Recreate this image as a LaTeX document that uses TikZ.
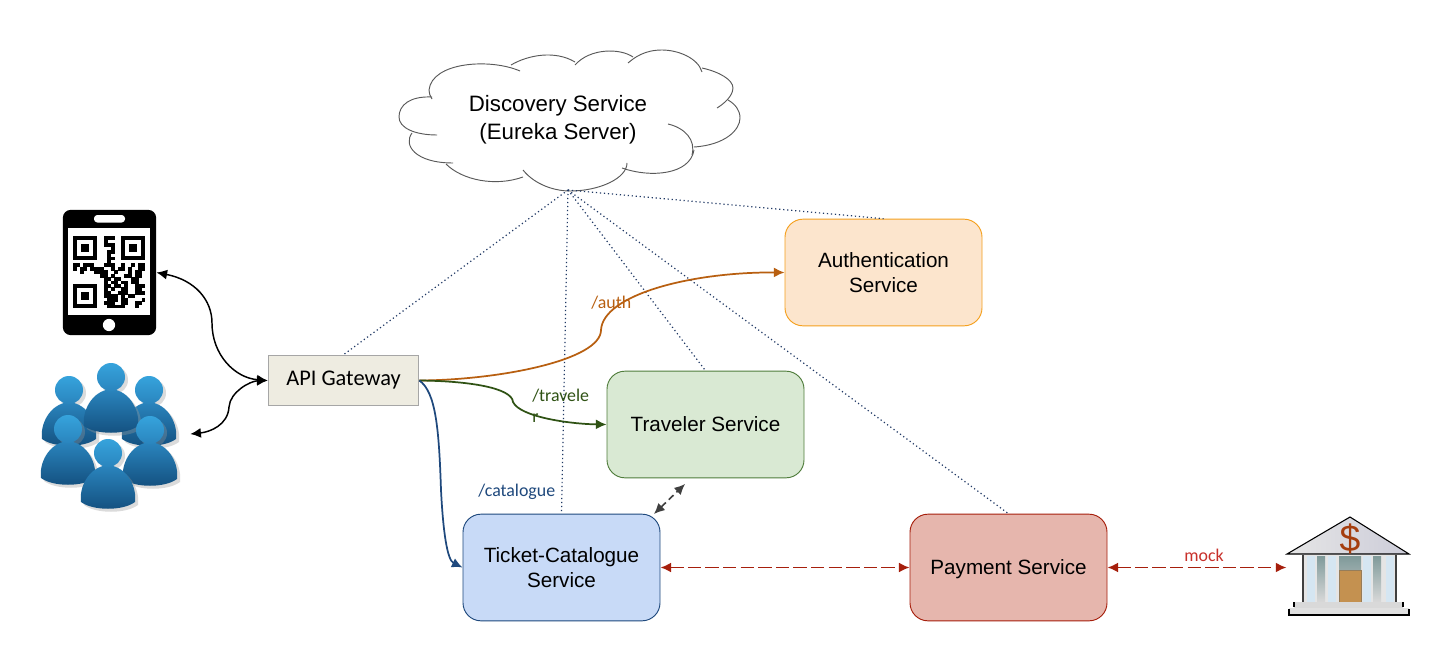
\documentclass[tikz,border=0pt]{standalone}
\usepackage{fontspec}
\usetikzlibrary{arrows.meta}
\setmainfont{Liberation Sans}
\newfontfamily\routefont{Carlito}
\definecolor{authline}{HTML}{B85F10}
\definecolor{travelline}{HTML}{2F5214}
\definecolor{catline}{HTML}{1F497D}
\definecolor{payline}{HTML}{A61F0C}
\definecolor{hubline}{HTML}{1F3864}
\definecolor{personlight}{HTML}{36A3DC}
\definecolor{personmid}{HTML}{2A85BE}
\definecolor{persondark}{HTML}{134F7E}
\definecolor{pillarpale}{HTML}{D5E6F2}
\definecolor{pillardark}{HTML}{7F9A9A}
\newcommand{\personbody}{(0,12) .. controls (-20,14) and (-29,35) .. (-27,49)
  .. controls (-15,58) and (15,58) .. (27,49) .. controls (29,35) and (20,14) .. (0,12) -- cycle}
\tikzset{
  >={Latex[length=8pt,width=7.5pt]},
  service/.style = {draw, rounded corners=13.5pt, minimum width=147.75pt, minimum height=80pt,
    align=center, font=\fontsize{15.5}{18.75}\selectfont, line width=.7pt},
  oneline/.style = {text height=13pt, text depth=1.8pt},
  route/.style = {font=\routefont\fontsize{13.4}{16}\selectfont, inner sep=0pt},
  hubdots/.style = {hubline, line width=.9pt, dash pattern=on .9pt off 2.1pt},
  paylink/.style = {<->, payline, line width=1.3pt, dash pattern=on 10pt off 3.2pt},
  lobe/.style = {draw=black!65, line width=.7pt},
  person/.pic = {
    \fill[black!40, opacity=.35, shift={(3,3)}] (0,0) circle [radius=10.5pt] \personbody;
    \shade[top color=personmid, bottom color=persondark] \personbody;
    \shade[top color=personlight, bottom color=personmid] (0,0) circle [radius=10.5pt];
  },
}
\begin{document}
\begin{tikzpicture}[x=.75pt, y=-.75pt]
  \useasboundingbox (0,0) rectangle (1437,649);
  \fill[white] (0,0) rectangle (1437,649);
  % cloud
  \draw[lobe] (432,97) .. controls (410,96) and (399,105) .. (399,117) .. controls (399,128) and (415,135) .. (437,135);
  \draw[lobe] (412,133) .. controls (403,145) and (415,163) .. (453,163);
  \draw[lobe] (446,164) .. controls (462,180) and (495,187) .. (523,177);
  \draw[lobe] (523,170) .. controls (535,185) and (555,191) .. (570,191) .. controls (600,191) and (627,178) .. (627,163);
  \draw[lobe] (622,168) .. controls (650,178) and (690,175) .. (694,150);
  \draw[lobe] (668,124) .. controls (685,128) and (696,140) .. (692,155);
  \draw[lobe] (694,147) .. controls (725,145) and (740,130) .. (740,118) .. controls (740,110) and (735,104) .. (728,100);
  \draw[lobe] (717,108) .. controls (730,100) and (733,92) .. (733,88) .. controls (733,80) and (720,72) .. (702,68);
  \draw[lobe] (702,72) .. controls (698,58) and (678,50) .. (662,50) .. controls (645,50) and (635,57) .. (628,63);
  \draw[lobe] (633,57) .. controls (620,48) and (590,48) .. (575,65);
  \draw[lobe] (575,62) .. controls (555,50) and (528,55) .. (511,65);
  \draw[lobe] (520,71) .. controls (490,58) and (432,62) .. (429,90) .. controls (429,93) and (430,96) .. (432,99);
  \node[align=center, font=\fontsize{16.7}{21}\selectfont] (discovery) at (558,119.5) {Discovery Service\\(Eureka Server)};
  \coordinate (hub) at (568,190);
  % services
  \node[service, minimum width=113pt, minimum height=38pt, rounded corners=0pt, draw=black!35,
    fill={rgb,255:red,238;green,236;blue,225}, font=\routefont\fontsize{16.8}{18}\selectfont] (api) at (343.5,380.5) {API Gateway};
  \node[service, draw={rgb,255:red,245;green,160;blue,30}, fill={rgb,255:red,252;green,229;blue,205}] (auth) at (883.5,272.5) {Authentication\\Service};
  \node[service, oneline, draw={rgb,255:red,80;green,125;blue,60}, fill={rgb,255:red,217;green,233;blue,211}] (traveler) at (705.5,424.5) {Traveler Service};
  \node[service, draw=catline, fill={rgb,255:red,200;green,218;blue,247}] (catalogue) at (561.5,567.5) {Ticket-Catalogue\\Service};
  \node[service, oneline, draw=payline, fill={rgb,255:red,230;green,182;blue,173}] (payment) at (1008.5,567.5) {Payment Service};
  % phone
  \node[fill=black, rounded corners=6pt, minimum width=70pt, minimum height=94pt, inner sep=0pt] (phone) at (109.5,272.5) {};
  \fill[white] (68,228) rectangle (150,315);
  \fill[white, rounded corners=2.5pt] (94,215) rectangle (125,222.5);
  \fill[white] (109,325) circle [radius=4.6pt];
  \begin{scope}[shift={(73,236)}, x=2.57pt, y=-2.57pt]
    \foreach \fx/\fy in {0/0, 14/0, 0/14} {
      \fill[black] (\fx,\fy) rectangle +(7,7);
      \fill[white] (\fx+1.3,\fy+1.3) rectangle +(4.4,4.4);
      \fill[black] (\fx+2.4,\fy+2.4) rectangle +(2.2,2.2);
    }
    \foreach \r/\cols in {0/{9,10,11}, 1/{9}, 2/{9,10,11}, 3/{11}, 4/{10,11}, 5/{10}, 6/{10,11}, 7/{10},
      8/{0,1,3,4,5,9,10,11,14,17,19,20}, 9/{0,2,3,5,6,7,8,11,13,14,16,19,20}, 10/{2,6,7,8,9,12,16,18,19},
      11/{8,9,11,15,16,18,19}, 12/{9,10,12,13,17,18}, 13/{9,11,12,14,15,17,18}, 14/{9,10,12,13,15,18,19,20},
      15/{9,11,14,15,18,19}, 16/{9,10,13,14,15,18,19,20}, 17/{9,10,11,12,14,16,17}, 18/{10,11,12,14,15,20},
      19/{9,10,11,14,15,18,19}, 20/{10,11,12,13,14,18}}
      \foreach \c in \cols
        \fill[black] (\c,\r) rectangle +(1.12,1.12);
  \end{scope}
  % users
  \node[minimum width=120pt, minimum height=113pt, inner sep=0pt] (users) at (110,434) {};
  \pic at (69,390) {person};
  \pic at (149,390) {person};
  \pic at (111,377) {person};
  \pic at (68,429) {person};
  \pic at (150,430) {person};
  \pic at (108,453) {person};
  % bank
  \node[minimum width=92pt, minimum height=74pt, inner sep=0pt] (bank) at (1348,567.5) {};
  \fill[black!10] (1303,555) rectangle (1396,602);
  \draw[black!75, line width=.8pt] (1303,555) -- (1303,602) (1396,555) -- (1396,602);
  \foreach \px in {1307,1328,1363,1386}
    \fill[pillarpale] (\px,556) rectangle +(8,46);
  \foreach \px in {1317,1373}
    \shade[top color=pillardark, bottom color=black!15] (\px,556) rectangle +(8,46);
  \shade[top color=pillardark, bottom color=black!20] (1339,556) rectangle (1361,602);
  \fill[fill={rgb,255:red,196;green,145;blue,80}, draw={rgb,255:red,150;green,125;blue,90}] (1339,570) rectangle (1361,602);
  \shade[left color=black!10, right color=blue!25!black!20, draw=black, line width=.8pt]
    (1287,554) -- (1350,517) -- (1409,554) -- cycle;
  \fill[black!15] (1294,602) rectangle (1403,608);
  \fill[black!12] (1289,608) rectangle (1409,615);
  \draw[black, line width=.8pt] (1294,607) -- (1294,602) (1403,602) -- (1403,607)
    (1289,609) -- (1289,615) -- (1409,615) -- (1409,609);
  \node[text={rgb,255:red,165;green,62;blue,15}, font=\fontsize{28}{28}\selectfont, inner sep=0pt] (dollar) at (1350,539) {\$};
  % discovery links
  \draw[hubdots] (hub) -- (api.north);
  \draw[hubdots] (hub) -- (catalogue.north);
  \draw[hubdots] (hub) -- (traveler.north);
  \draw[hubdots] (hub) -- (payment.north);
  \draw[hubdots] (hub) -- (auth.north);
  % client links
  \draw[<->, line width=1.1pt] (phone.east) .. controls (195,280) and (212,300) .. (212,323)
    .. controls (212,355) and (235,378) .. (api.west);
  \draw[<->, line width=1.1pt] (users.east) .. controls (210,432) and (228,425) .. (229,407)
    .. controls (230,392) and (250,381) .. (api.west);
  % routes
  \draw[->, authline, line width=1.3pt] (api.east) .. controls (500,380) and (601,360) .. (601,330)
    .. controls (603,295) and (690,272) .. (auth.west);
  \draw[->, travelline, line width=1.3pt] (api.east) .. controls (470,381) and (512,388) .. (513,402)
    .. controls (520,417) and (570,424) .. (traveler.west);
  \draw[->, catline, line width=1.3pt] (api.east) .. controls (436,392) and (439,430) .. (441,490)
    .. controls (443,530) and (447,560) .. (catalogue.west);
  \node[route, text=authline, anchor=west] (authlabel) at (591,303) {/auth};
  \node[route, text=travelline, anchor=north west, align=left] (travellabel) at (532,388.5) {/travele\\r};
  \node[route, text=catline, anchor=west] (catlabel) at (478,492) {/catalogue};
  % peer links
  \coordinate (peerend) at (685,484);
  \coordinate (peerstart) at (654,514);
  \draw[<->, black!75, line width=1.2pt, dash pattern=on 5pt off 3pt] (peerstart) -- (peerend);
  \draw[paylink] (catalogue.east) -- (payment.west);
  \draw[paylink] (payment.east) -- node[pos=.54, above=4pt, route, text={rgb,255:red,200;green,48;blue,42}] (mock) {mock} (bank.west);
\end{tikzpicture}
\end{document}
